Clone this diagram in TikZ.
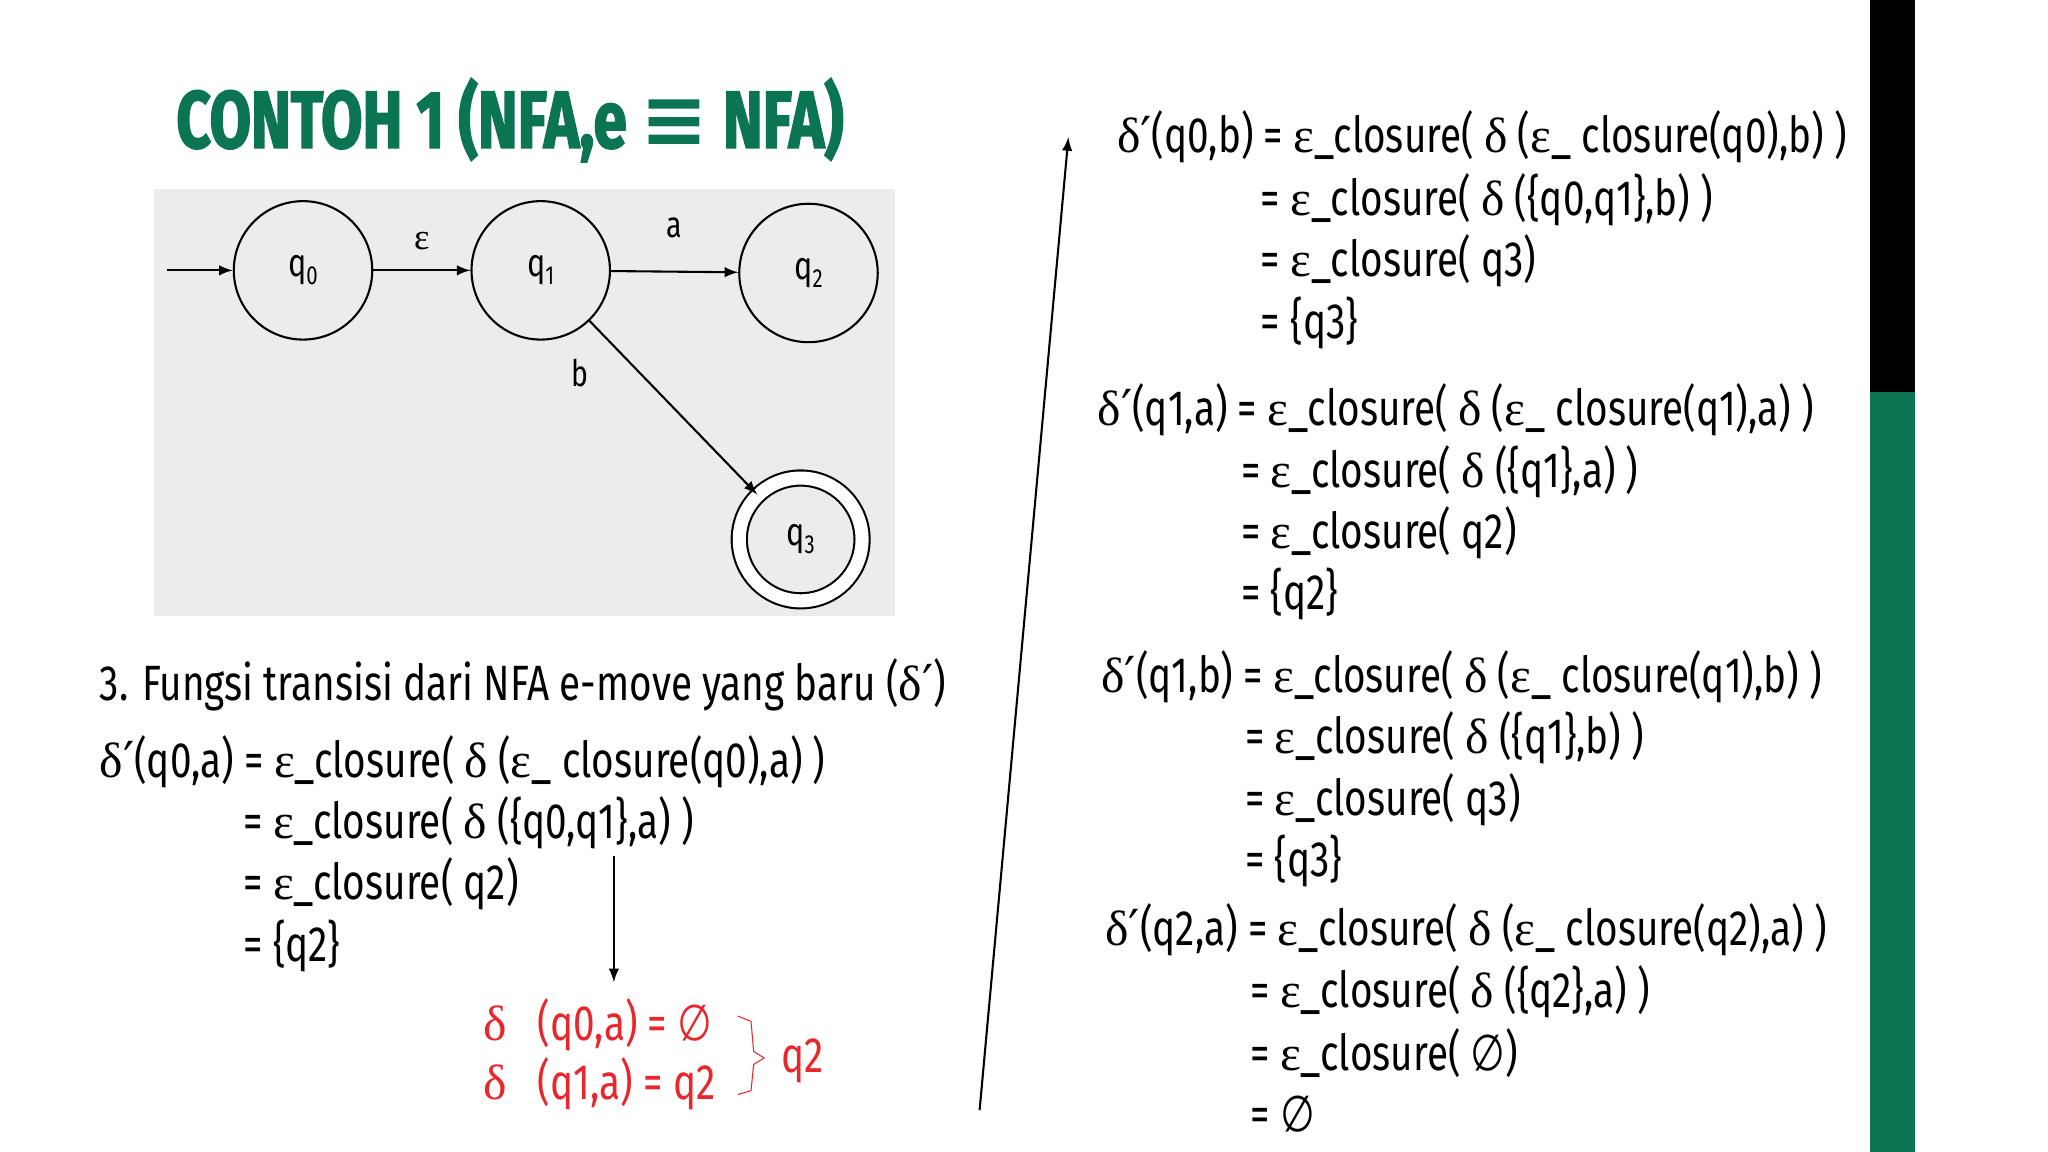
\documentclass[tikz,border=0pt]{standalone}
\usepackage{fontspec}
\setmainfont{Fira Sans}[FakeStretch=0.78]
\newfontfamily\serf{Liberation Serif}
\newfontfamily\djvu{DejaVu Sans}
\newfontfamily\titlef{Fira Sans}[FakeStretch=0.74,FakeBold=2]
\newcommand{\mye}{{\serf ε}}
\newcommand{\myd}{{\serf δ}}
\newcommand{\mydp}{{\serf δ}{\djvu ′}}
\newcommand{\qs}[1]{q\raisebox{-3pt}{\fontsize{10}{10}\selectfont #1}}
\definecolor{tgreen}{HTML}{0B7452}
\definecolor{rred}{HTML}{E8262B}
\begin{document}
\begin{tikzpicture}[x=0.5pt,y=-0.5pt,
  eq/.style={anchor=west,inner sep=0pt,font=\fontsize{19}{21}\selectfont},
  st/.style={circle,draw,thick,minimum size=53pt,inner sep=0pt,font=\fontsize{15}{16}\selectfont},
  lab/.style={font=\fontsize{14}{16}\selectfont},
  arr/.style={-latex,thick}]
\useasboundingbox (0,0) rectangle (1568,882);
\fill[white] (0,0) rectangle (1568,882);
\fill[black] (1432,0) rectangle (1466,300);
\fill[tgreen] (1432,300) rectangle (1466,882);
\node[anchor=west,text=tgreen,font=\titlef\bfseries\fontsize{31}{33}\selectfont] (title) at (128,92) {CONTOH 1 (NFA,e {\djvu\bfseries ≡} NFA)};
\fill[gray!15] (118,145) rectangle (685,472);
\node[st] (q0) at (232,207) {\qs{0}};
\node[st] (q1) at (414,207) {\qs{1}};
\node[st] (q2) at (619,209) {\qs{2}};
\node[st,double,double distance=5pt,minimum size=47pt] (q3) at (613,413) {\qs{3}};
\coordinate (s) at (128,207);
\draw[arr] (s) -- (q0);
\draw[arr] (q0) -- node[lab,above=4pt]{\mye} (q1);
\draw[arr] (q1) -- node[lab,above=9pt]{a} (q2);
\draw[arr] (q1) -- node[lab,pos=0.3,left=16pt]{b} (q3);
\node[eq] (h) at (76,524) {3. Fungsi transisi dari NFA e-move yang baru (\mydp)};
\node[eq] (l1) at (76,583) {\mydp(q0,a) = \mye\_closure( \myd\ (\mye\_ closure(q0),a) )};
\node[eq] (l2) at (186,630) {= \mye\_closure( \myd\ (\{q0,q1\},a) )};
\node[eq] (l3) at (186,677) {= \mye\_closure( q2)};
\node[eq] (l4) at (186,724) {= \{q2\}};
\coordinate (a1) at (470,655); \coordinate (a2) at (470,752);
\draw[-latex,thick] (a1) -- (a2);
\node[eq,text=rred] (r1) at (370,785) {\myd\ \ \ (q0,a) = ∅};
\node[eq,text=rred] (r2) at (370,830) {\myd\ \ \ (q1,a) = q2};
\draw[rred,thin] (565,778) -- (575,782) -- (577,805) -- (585,810) -- (577,815) -- (575,835) -- (565,838);
\node[eq,text=rred] (rq) at (598,812) {q2};
\coordinate (b1) at (750,850); \coordinate (b2) at (818,105);
\draw[-latex,thick] (b1) -- (b2);
\node[eq] (m1) at (855,105) {\mydp(q0,b) = \mye\_closure( \myd\ (\mye\_ closure(q0),b) )};
\node[eq] (m2) at (965,153) {= \mye\_closure( \myd\ (\{q0,q1\},b) )};
\node[eq] (m3) at (965,200) {= \mye\_closure( q3)};
\node[eq] (m4) at (965,247) {= \{q3\}};
\node[eq] (n1) at (840,314) {\mydp(q1,a) = \mye\_closure( \myd\ (\mye\_ closure(q1),a) )};
\node[eq] (n2) at (950,361) {= \mye\_closure( \myd\ (\{q1\},a) )};
\node[eq] (n3) at (950,408) {= \mye\_closure( q2)};
\node[eq] (n4) at (950,455) {= \{q2\}};
\node[eq] (o1) at (843,518) {\mydp(q1,b) = \mye\_closure( \myd\ (\mye\_ closure(q1),b) )};
\node[eq] (o2) at (953,565) {= \mye\_closure( \myd\ (\{q1\},b) )};
\node[eq] (o3) at (953,612) {= \mye\_closure( q3)};
\node[eq] (o4) at (953,659) {= \{q3\}};
\node[eq] (p1) at (846,712) {\mydp(q2,a) = \mye\_closure( \myd\ (\mye\_ closure(q2),a) )};
\node[eq] (p2) at (957,759) {= \mye\_closure( \myd\ (\{q2\},a) )};
\node[eq] (p3) at (957,806) {= \mye\_closure( ∅)};
\node[eq] (p4) at (957,853) {= ∅};
\end{tikzpicture}
\end{document}
